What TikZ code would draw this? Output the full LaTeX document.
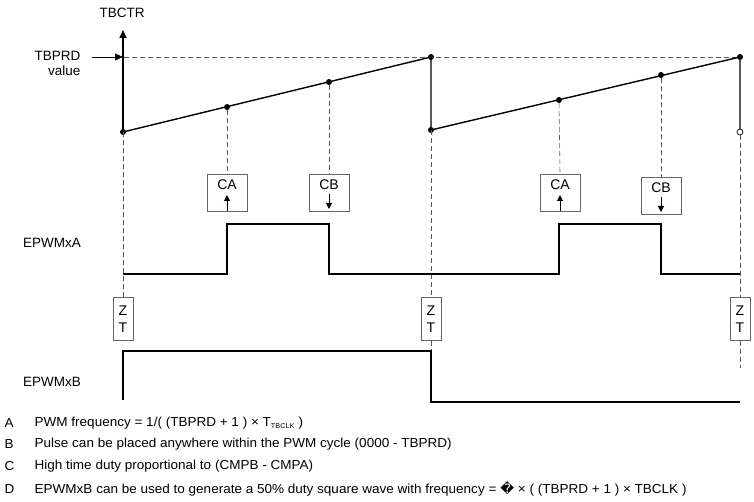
\documentclass[tikz,border=0pt]{standalone}
\usepackage{fontspec}
\setmainfont{Liberation Sans}
\newfontfamily\djv{DejaVu Sans}
\usetikzlibrary{arrows.meta}
\begin{document}
\begin{tikzpicture}[x=1pt,y=-1pt,
  sig/.style={line width=1.6pt},
  dsh/.style={dashed,dash pattern=on 5pt off 3pt,gray!70!black,line width=0.6pt},
  ev/.style={draw,gray!80!black,fill=white,minimum width=20pt,minimum height=43pt,inner sep=0pt,align=center,text=black,font=\fontsize{14}{17}\selectfont},
  cmp/.style={draw,gray!80!black,fill=white,minimum width=40pt,minimum height=37pt,inner sep=0pt,text=black},
  dot/.style={circle,fill=black,inner sep=0pt,minimum size=6pt},
  lbl/.style={font=\fontsize{13.5}{15}\selectfont},
  note/.style={font=\fontsize{13}{14}\selectfont,anchor=west,xscale=1.04}]
\useasboundingbox (0,0) rectangle (754,502);
% labels
\node[lbl] (tbctr) at (122,13) {TBCTR};
\node[lbl,align=right,anchor=east] (tbprd) at (84,63) {TBPRD\\value};
\node[lbl] (ea) at (52,243) {EPWMxA};
\node[lbl] (eb) at (52,382) {EPWMxB};
% coordinates
\coordinate (o) at (123,132);
\coordinate (top) at (123,30);
\coordinate (p1) at (431,57);
\coordinate (v1) at (431,130);
\coordinate (p2) at (740,57);
\coordinate (v2) at (740,132);
\node[dot] (a1) at (227,107) {};
\node[dot] (b1) at (329,82) {};
\node[dot] (a2) at (559,100) {};
\node[dot] (b2) at (661,75) {};
\node[dot] at (o) {};
\node[dot] at (p1) {};
\node[dot] at (v1) {};
\node[dot] at (p2) {};
% dashed TBPRD
\coordinate (dl) at (92,57);
\draw[dsh] (dl) -- (p2);
\draw[-{Triangle[length=8pt,width=7pt]},line width=0.6pt] (dl) -- (123,57);
% axis
\draw[line width=1.6pt,-{Triangle[length=8pt,width=7pt]}] (o) -- (top);
% ramps
\draw[line width=1.4pt] (o) -- (p1) -- (v1) -- (p2) -- (v2);
\node[circle,draw,fill=white,inner sep=0pt,minimum size=6pt,line width=0.7pt] (oc) at (v2) {};
% compare boxes
\node[cmp] (ca1) at (227,193) {};
\node[cmp] (cb1) at (329,193) {};
\node[cmp] (ca2) at (560,193) {};
\node[cmp] (cb2) at (661,196) {};
\foreach \n in {ca1,ca2}{\node[font=\fontsize{14}{14}\selectfont] at ([yshift=8pt]\n.center) {CA};
  \draw[-{Triangle[length=6pt,width=6pt]},line width=1pt] ([yshift=-18pt]\n.center) -- ([yshift=-2pt]\n.center);}
\foreach \n in {cb1,cb2}{\node[font=\fontsize{14}{14}\selectfont] at ([yshift=8pt]\n.center) {CB};
  \draw[-{Triangle[length=6pt,width=6pt]},line width=1pt] ([yshift=-1pt]\n.center) -- ([yshift=-16pt]\n.center);}
\draw[dsh] (a1) -- (ca1.north);
\draw[dsh] (b1) -- (cb1.north);
\draw[dsh] (a2) -- (ca2.north);
\draw[dsh] (b2) -- (cb2.north);
% ZT boxes
\node[ev] (z1) at (123,319) {Z\\T};
\node[ev] (z2) at (431,319) {Z\\T};
\node[ev] (z3) at (740,319) {Z\\T};
\draw[dsh] (o) -- (z1.north);
\draw[dsh] (oc) -- (z3.north);
\draw[dsh] (v1) -- (z2.north);
\coordinate (z3b) at (740,368);
\draw[dsh] (z3.south) -- (z3b);
\draw[dsh] (z2.south) -- (431,351);
% EPWMxA
\draw[sig] (123,274) -- (227,274) -- (227,224) -- (329,224) -- (329,274) -- (559,274) -- (559,224) -- (661,224) -- (661,274) -- (740,274);
% EPWMxB
\draw[sig] (123,400) -- (123,351) -- (431,351) -- (431,402) -- (740,402);
% notes
\foreach \l/\y in {A/423,B/444,C/466,D/489}{\node[note] at (1,\y) {\l};}
\node[note] at (31,423) {PWM frequency = 1/( (TBPRD + 1 ) × T\textsubscript{\fontsize{7}{7}\selectfont TBCLK} )};
\node[note] at (31,444) {Pulse can be placed anywhere within the PWM cycle (0000 - TBPRD)};
\node[note] at (31,466) {High time duty proportional to (CMPB - CMPA)};
\node[note] at (31,489) {EPWMxB can be used to generate a 50\% duty square wave with frequency = {\djv\char"FFFD} × ( (TBPRD + 1 ) × TBCLK )};
\end{tikzpicture}
\end{document}
